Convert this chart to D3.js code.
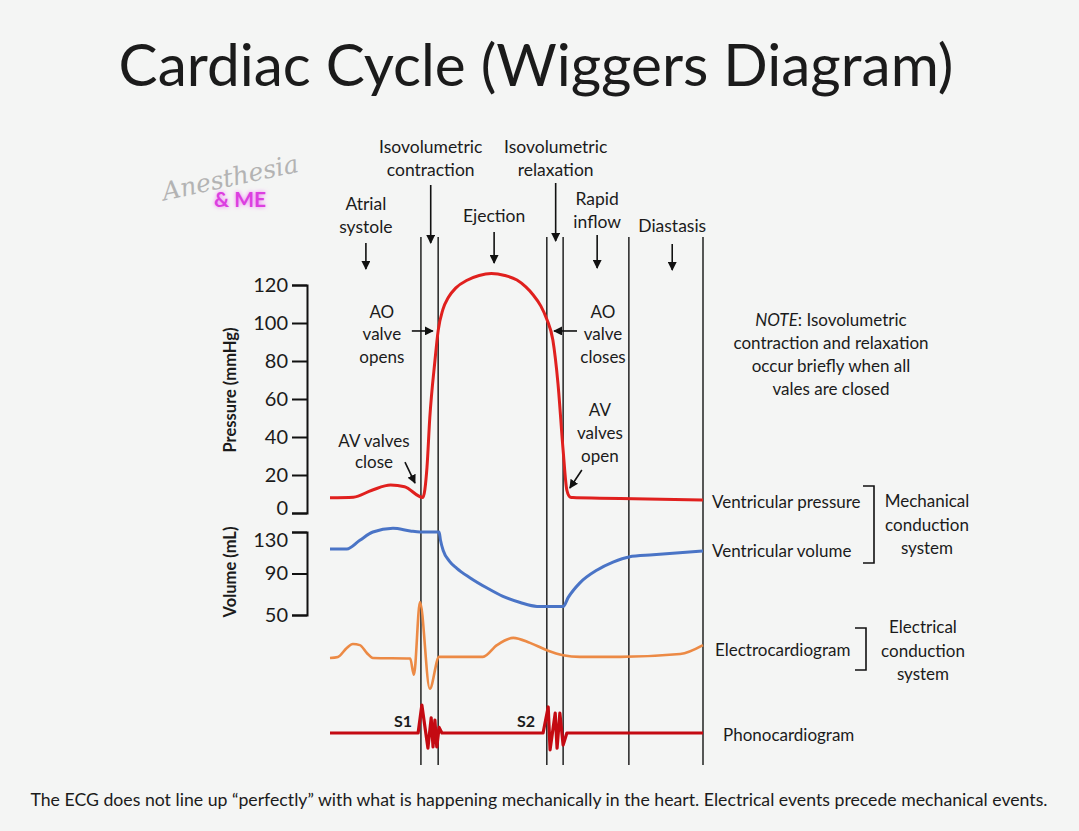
<!DOCTYPE html>
<html>
<head>
<meta charset="utf-8">
<script src="https://cdn.jsdelivr.net/npm/d3@7"></script>
<style>
  body { margin: 0; background: #f4f5f4; }
  text { font-family: Lato, "Open Sans", sans-serif; fill: #1b1b1b; }
</style>
</head>
<body>
<svg id="chart" width="1079" height="831"></svg>
<script>
// time axis in ms, one beat
var phaseBounds = [195, 232, 465, 500, 641, 800];
var phaseNames = [["Atrial", "systole"], ["Isovolumetric", "contraction"], ["Ejection"],
                  ["Isovolumetric", "relaxation"], ["Rapid", "inflow"], ["Diastasis"]];
var phaseMarks = [77, 216, 352, 484, 573, 734];

var pressureTicks = [0, 20, 40, 60, 80, 100, 120];
var volumeTicks = [50, 90, 130];

// [ms, mmHg]
var pressure = [[0, 8], [50, 8.3], [90, 12], [130, 14.7], [160, 13.8], [199, 8.2],
  [208, 24], [214, 50], [225, 80], [232, 96], [242, 107], [254, 113.5], [270, 118.5],
  [294, 122.5], [320, 125], [346, 126], [375, 125], [401, 122.6], [420, 119], [435, 115],
  [452, 109], [465, 102], [478, 91], [489, 68], [500, 33], [508, 12], [515, 8.4],
  [521, 8.1], [579, 7.8], [622, 7.6], [800, 6.8]];

// [ms, mL]
var volume = [[0, 113.6], [36, 113.6], [64, 122], [92, 130], [135, 133.5], [172, 131],
  [193, 130], [234, 130], [237, 122], [243, 112], [256, 102], [272, 95], [300, 86],
  [337, 76], [371, 68], [408, 62], [444, 58.3], [500, 58.2], [511, 67], [536, 81],
  [573, 93.4], [607, 101], [641, 106], [693, 108], [800, 111.7]];

// [ms, mV]
var ecg = [[0, 0], [17, 0.02], [36, 0.18], [49, 0.25], [64, 0.23], [79, 0.09], [92, 0],
  [172, -0.01], [180, -0.3], [193, 1.0], [214, -0.55], [234, 0.02], [328, 0.02],
  [358, 0.23], [393, 0.36], [429, 0.27], [465, 0.14], [500, 0.05], [536, 0.02],
  [622, 0.02], [751, 0.07], [800, 0.23]];

// [ms, relative amplitude]
var phono = [[0, 0], [189, 0], [197, 1.0], [210, -0.54], [217, 0.54], [221, -0.5],
  [225, 0.46], [229, -0.5], [234, 0.2], [240, 0], [457, 0], [468, 0.93], [472, -0.6],
  [483, 0.71], [487, -0.54], [493, 0.71], [500, -0.43], [508, 0], [800, 0]];

var valveNotes = [
  {lines: ["AO", "valve", "opens"], t: 227, p: 95.8},
  {lines: ["AO", "valve", "closes"], t: 474, p: 95.8},
  {lines: ["AV valves", "close"], t: 193, p: 8.4},
  {lines: ["AV", "valves", "open"], t: 508, p: 8.4}
];

var noteLines = ["NOTE: Isovolumetric", "contraction and relaxation", "occur briefly when all", "vales are closed"];

var svg = d3.select("#chart");

var x = d3.scaleLinear().domain([0, 800]).range([330, 703]),
    yP = d3.scaleLinear().domain([0, 120]).range([513, 285]),
    yV = d3.scaleLinear().domain([50, 130]).range([615, 532]),
    yE = d3.scaleLinear().domain([0, 1]).range([658, 602]),
    yS = d3.scaleLinear().domain([0, 1]).range([733, 705]);

var defs = svg.append("defs");
defs.append("marker")
    .attr("id", "head")
    .attr("viewBox", "0 0 10 10")
    .attr("refX", 9).attr("refY", 5)
    .attr("markerWidth", 9).attr("markerHeight", 9)
    .attr("markerUnits", "userSpaceOnUse")
    .attr("orient", "auto")
  .append("path")
    .attr("d", "M0,0 L10,5 L0,10 z")
    .attr("fill", "#111");
defs.append("filter").attr("id", "glow")
  .append("feGaussianBlur").attr("stdDeviation", 2.2);

// title
svg.append("text")
    .attr("x", 536).attr("y", 86)
    .attr("text-anchor", "middle")
    .style("font-size", "58.5px")
    .text("Cardiac Cycle (Wiggers Diagram)");

// watermark
svg.append("text")
    .attr("transform", "translate(232,186) rotate(-12)")
    .attr("text-anchor", "middle")
    .style("font-family", "DejaVu Serif")
    .style("font-style", "italic")
    .style("font-size", "25px")
    .style("fill", "#b3b3b3")
    .text("Anesthesia");
svg.append("text")
    .attr("x", 240).attr("y", 207)
    .attr("text-anchor", "middle")
    .attr("filter", "url(#glow)")
    .style("font-size", "21px").style("font-weight", "bold")
    .style("fill", "#f07cf5")
    .text("& ME");
svg.append("text")
    .attr("x", 240).attr("y", 207)
    .attr("text-anchor", "middle")
    .style("font-size", "21px").style("font-weight", "bold")
    .style("fill", "#dc3fe0")
    .text("& ME");

// phase boundaries
svg.append("g").selectAll("line")
  .data(phaseBounds)
.enter().append("line")
  .attr("x1", function(d) { return x(d); })
  .attr("x2", function(d) { return x(d); })
  .attr("y1", 237).attr("y2", 765)
  .attr("stroke", "#222").attr("stroke-width", 1.5);

// phase labels with arrows
var phaseLayout = [
  {base: 210, a0: 243, a1: 269},
  {base: 153, a0: 185, a1: 243},
  {base: 222, a0: 232, a1: 263},
  {base: 153, a0: 183, a1: 241},
  {base: 205, a0: 235, a1: 268},
  {base: 232, a0: 244, a1: 270}
];
var phase = svg.append("g").selectAll("g")
  .data(phaseNames)
.enter().append("g");

phase.each(function(d, i) {
  var g = d3.select(this), L = phaseLayout[i], cx = x(phaseMarks[i]);
  g.selectAll("text").data(d).enter().append("text")
    .attr("x", cx)
    .attr("y", function(s, j) { return L.base + j * 23; })
    .attr("text-anchor", "middle")
    .style("font-size", "17.5px")
    .text(function(s) { return s; });
  g.append("line")
    .attr("x1", cx).attr("x2", cx)
    .attr("y1", L.a0).attr("y2", L.a1)
    .attr("stroke", "#111").attr("stroke-width", 1.6)
    .attr("marker-end", "url(#head)");
});

// axes
function styleAxis(g) {
  g.attr("font-family", null).attr("font-size", null);
  g.selectAll("path, line").attr("stroke", "#111").attr("stroke-width", 2);
  g.selectAll("text").style("font-size", "20px");
}
svg.append("g")
    .attr("transform", "translate(307,0)")
    .call(d3.axisLeft(yP).tickValues(pressureTicks).tickSize(15).tickPadding(4))
    .call(styleAxis)
  .selectAll(".tick text")
    .filter(function(d) { return d === 0; })
    .attr("dy", "0.05em");
svg.append("g")
    .attr("transform", "translate(307,0)")
    .call(d3.axisLeft(yV).tickValues(volumeTicks).tickSize(15).tickPadding(4))
    .call(styleAxis)
  .selectAll(".tick text")
    .filter(function(d) { return d === 130; })
    .attr("dy", "0.72em");

svg.append("text")
    .attr("transform", "translate(236,390) rotate(-90)")
    .attr("text-anchor", "middle")
    .style("font-size", "16.5px").style("font-weight", "bold")
    .text("Pressure (mmHg)");
svg.append("text")
    .attr("transform", "translate(236,572) rotate(-90)")
    .attr("text-anchor", "middle")
    .style("font-size", "16.5px").style("font-weight", "bold")
    .text("Volume (mL)");

// traces
function trace(data, y, curve, color, width) {
  svg.append("path")
    .datum(data)
    .attr("fill", "none")
    .attr("stroke", color)
    .attr("stroke-width", width)
    .attr("stroke-linejoin", "round")
    .attr("d", d3.line()
      .x(function(d) { return x(d[0]); })
      .y(function(d) { return y(d[1]); })
      .curve(curve));
}
trace(pressure, yP, d3.curveMonotoneX, "#e0201e", 3);
trace(volume, yV, d3.curveMonotoneX, "#4a74c6", 3);
trace(ecg, yE, d3.curveMonotoneX, "#ec8a45", 2.6);
trace(phono, yS, d3.curveLinear, "#c40a12", 3.2);

// valve annotations
var noteLayout = [
  {dx: -54, dy: [-13, 9, 32], from: [-24, 0], to: [-3, 0]},
  {dx: 52, dy: [-13, 9, 32], from: [26, 0], to: [3, 0]},
  {dx: -46, dy: [-50, -29], from: [-15, -35], to: [-5, -14]},
  {dx: 33, dy: [-81, -58, -35], from: [15, -27], to: [3, -9]}
];
svg.append("g").selectAll("g")
  .data(valveNotes)
.enter().append("g")
  .each(function(d, i) {
    var g = d3.select(this), L = noteLayout[i], px = x(d.t), py = yP(d.p);
    g.selectAll("text").data(d.lines).enter().append("text")
      .attr("x", px + L.dx)
      .attr("y", function(s, j) { return py + L.dy[j]; })
      .attr("text-anchor", "middle")
      .style("font-size", "17px")
      .text(function(s) { return s; });
    g.append("line")
      .attr("x1", px + L.from[0]).attr("y1", py + L.from[1])
      .attr("x2", px + L.to[0]).attr("y2", py + L.to[1])
      .attr("stroke", "#111").attr("stroke-width", 1.6)
      .attr("marker-end", "url(#head)");
  });

// heart sounds
svg.append("text").attr("x", x(189) - 15).attr("y", 727)
    .attr("text-anchor", "middle")
    .style("font-size", "16px").style("font-weight", "bold").text("S1");
svg.append("text").attr("x", x(457) - 17).attr("y", 727)
    .attr("text-anchor", "middle")
    .style("font-size", "16px").style("font-weight", "bold").text("S2");

// note
var note = svg.append("g");
noteLines.forEach(function(s, i) {
  var t = note.append("text")
    .attr("x", 831).attr("y", 326 + i * 23)
    .attr("text-anchor", "middle")
    .style("font-size", "17px");
  if (i === 0) {
    t.append("tspan").style("font-style", "italic").text("NOTE");
    t.append("tspan").text(": Isovolumetric");
  } else {
    t.text(s);
  }
});

// trace labels
var rightLabels = svg.append("g").style("font-size", "17px");
rightLabels.append("text").attr("x", 712).attr("y", 508).text("Ventricular pressure");
rightLabels.append("text").attr("x", 712).attr("y", 557).text("Ventricular volume");
rightLabels.append("text").attr("x", 715).attr("y", 656).text("Electrocardiogram");
rightLabels.append("text").attr("x", 723).attr("y", 741).text("Phonocardiogram");

function bracket(xb, y0, y1, w) {
  svg.append("path")
    .attr("d", "M" + (xb - w) + "," + y0 + "H" + xb + "V" + y1 + "H" + (xb - w))
    .attr("fill", "none").attr("stroke", "#111").attr("stroke-width", 1.6);
}
bracket(874, 486, 563, 11);
bracket(866, 628, 670, 11);

[["Mechanical", "conduction", "system"], ["Electrical", "conduction", "system"]].forEach(function(lines, k) {
  var cx = k === 0 ? 927 : 923, base = k === 0 ? 507 : 633;
  lines.forEach(function(s, j) {
    svg.append("text").attr("x", cx).attr("y", base + j * 23.5)
      .attr("text-anchor", "middle").style("font-size", "17px").text(s);
  });
});

// footnote
svg.append("text")
    .attr("x", 539).attr("y", 806)
    .attr("text-anchor", "middle")
    .style("font-size", "17.7px")
    .text("The ECG does not line up \u201cperfectly\u201d with what is happening mechanically in the heart. Electrical events precede mechanical events.");
</script>
</body>
</html>
